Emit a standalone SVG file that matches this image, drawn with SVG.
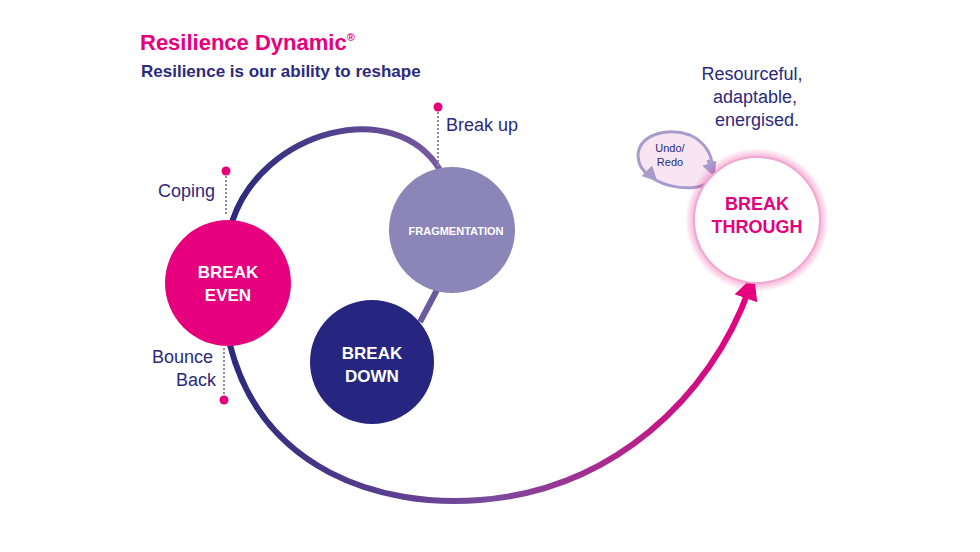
<svg xmlns="http://www.w3.org/2000/svg" width="980" height="552" viewBox="0 0 980 552">
<defs>
<style>
text{font-family:"Liberation Sans",Arial,sans-serif}
.lab{fill:#2b2a7c;font-size:18px}
.w{fill:#fff;font-weight:bold;text-anchor:middle}
.dot{fill:#e6007e}
.dl{stroke:#8a8aa8;stroke-width:2;stroke-dasharray:2 2}
</style>
<linearGradient id="g1" x1="0" y1="0" x2="1" y2="0"><stop offset="0" stop-color="#2b2a7c"/><stop offset="1" stop-color="#7a5aa0"/></linearGradient>
<linearGradient id="g2" x1="0" y1="0" x2="1" y2="0"><stop offset="0" stop-color="#2b2a7c"/><stop offset="0.5" stop-color="#7a4a9c"/><stop offset="1" stop-color="#e6007e"/></linearGradient>
<radialGradient id="glow"><stop offset="0.85" stop-color="#e6007e" stop-opacity="0.35"/><stop offset="1" stop-color="#e6007e" stop-opacity="0"/></radialGradient>
<marker id="ah" viewBox="0 0 10 10" refX="5" refY="5" markerWidth="4" markerHeight="4" orient="auto"><path d="M0,0 L10,5 L0,10 z" fill="#e6007e"/></marker>
<marker id="sh" viewBox="0 0 10 10" refX="5" refY="5" markerWidth="5" markerHeight="5" orient="auto"><path d="M0,0 L10,5 L0,10 z" fill="#a99ccc"/></marker>
</defs>
<rect width="980" height="552" fill="#fff"/>
<text x="140" y="50" font-size="22" font-weight="bold" fill="#e6007e">Resilience Dynamic<tspan font-size="11" dy="-9">®</tspan></text>
<text x="141" y="77" font-size="17" font-weight="bold" fill="#2b2a7c">Resilience is our ability to reshape</text>
<g id="connectors" fill="none">
<path d="M232 222 C262 130 395 95 440 170" stroke="url(#g1)" stroke-width="6"/>
<path d="M438 288 L420 322" stroke="#6b5a9c" stroke-width="6"/>
<path d="M230 345 C262 470 380 508 480 500 C610 490 710 400 750 287" stroke="url(#g2)" stroke-width="6" marker-end="url(#ah)"/>
<line class="dl" x1="226" y1="172" x2="226" y2="216"/>
<line class="dl" x1="224" y1="348" x2="224" y2="400"/>
<line class="dl" x1="438" y1="108" x2="438" y2="168"/>
<circle class="dot" cx="226" cy="171" r="4.5"/>
<circle class="dot" cx="224" cy="400" r="4.5"/>
<circle class="dot" cx="438" cy="107" r="4.5"/>
<path d="M710 182 C690 195 650 185 640 165 C630 140 660 125 690 135 C705 142 712 155 712 165" fill="#f7e6f2" stroke="#a99ccc" stroke-width="3"/>
<path d="M648 172 L652 176" stroke="#a99ccc" stroke-width="3" marker-end="url(#sh)"/>
<path d="M708 160 L712 170" stroke="#a99ccc" stroke-width="3" marker-end="url(#sh)"/>
</g>
<text class="lab" x="158" y="197">Coping</text>
<text class="lab" x="152" y="363">Bounce</text>
<text class="lab" x="176" y="386">Back</text>
<text class="lab" x="446" y="131">Break up</text>
<g class="lab" text-anchor="middle"><text x="752" y="80">Resourceful,</text><text x="755" y="103">adaptable,</text><text x="757" y="126">energised.</text></g>
<text x="670" y="152" font-size="11" fill="#2b2a7c" text-anchor="middle">Undo/</text>
<text x="670" y="166" font-size="11" fill="#2b2a7c" text-anchor="middle">Redo</text>
<g id="break-even"><circle cx="228" cy="283" r="63" fill="#e6007e"/><text class="w" x="228" y="278" font-size="17">BREAK</text><text class="w" x="228" y="301" font-size="17">EVEN</text></g>
<g id="fragmentation"><circle cx="452" cy="230" r="63" fill="#8c86b8"/><text class="w" x="456" y="235" font-size="11">FRAGMENTATION</text></g>
<g id="break-down"><circle cx="372" cy="362" r="62" fill="#262680"/><text class="w" x="372" y="359" font-size="17">BREAK</text><text class="w" x="372" y="382" font-size="17">DOWN</text></g>
<g id="break-through"><circle cx="757" cy="220" r="72" fill="url(#glow)"/><circle cx="757" cy="220" r="63" fill="#fff" stroke="#f0a8cf" stroke-width="2"/><text class="w" x="757" y="210" font-size="18" fill="#e6007e" style="fill:#e6007e">BREAK</text><text class="w" x="757" y="233" font-size="18" style="fill:#e6007e">THROUGH</text></g>
</svg>
